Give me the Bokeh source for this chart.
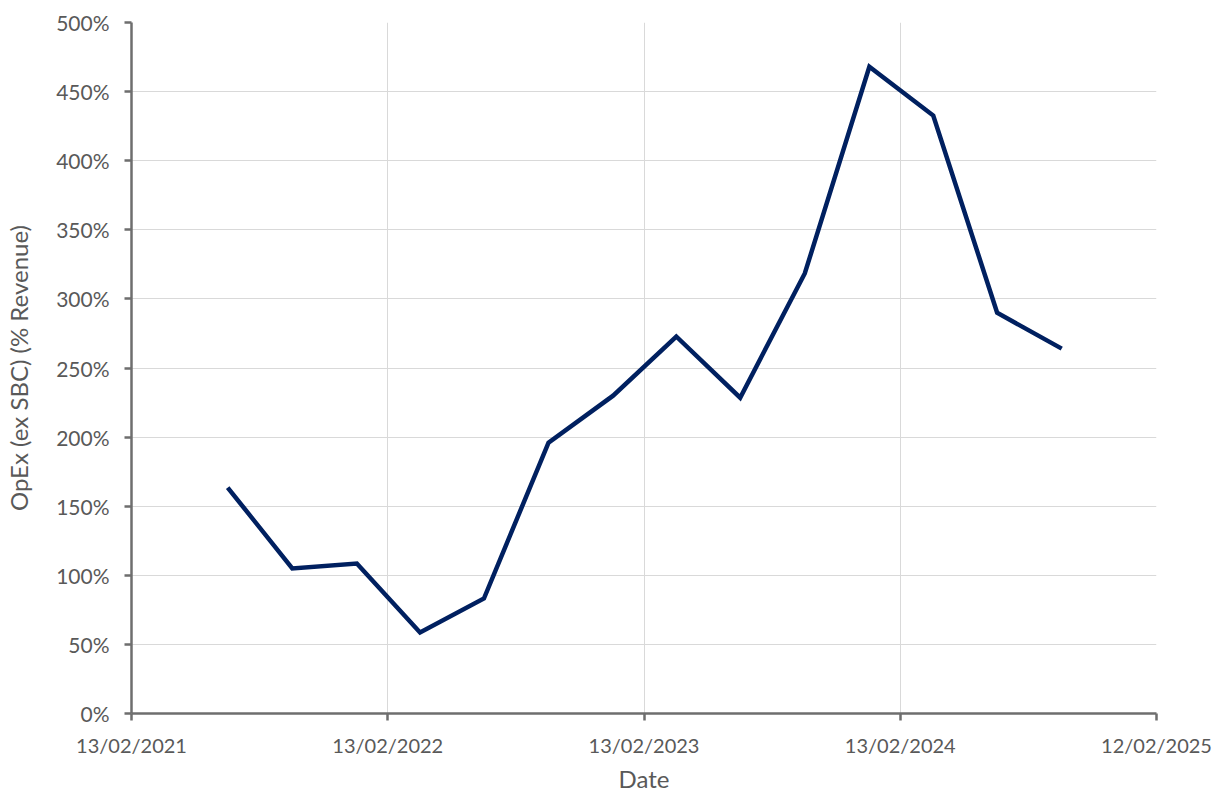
import pandas as pd
from bokeh.plotting import figure
from bokeh.models import FixedTicker, DatetimeTickFormatter, PrintfTickFormatter, Range1d
from bokeh.embed import file_html
from bokeh.resources import INLINE

dates = ["2021-06-30", "2021-09-30", "2021-12-31", "2022-03-31", "2022-06-30",
         "2022-09-30", "2022-12-31", "2023-03-31", "2023-06-30", "2023-09-30",
         "2023-12-31", "2024-03-31", "2024-06-30", "2024-09-30"]
opex_pct = [163.5, 105, 108.5, 58.6, 83.2, 196, 230, 272.8, 228.5, 318.4,
            468, 432.7, 290, 264]
x_ticks = ["2021-02-13", "2022-02-13", "2023-02-13", "2024-02-13", "2025-02-12"]
y_ticks = list(range(0, 501, 50))

x = pd.to_datetime(dates)
xt = pd.to_datetime(x_ticks)
tick_ms = [t.value // 10**6 for t in xt]

FONT = "Lato"
TXT = "#595959"
AX = "#6e6e6e"

p = figure(width=1221, height=798, output_backend="svg", toolbar_location=None,
           x_axis_type="datetime",
           x_range=Range1d(xt[0], xt[-1]), y_range=Range1d(0, 500),
           min_border_left=131, min_border_right=65, min_border_top=22,
           min_border_bottom=85)
p.outline_line_color = None

p.line(x, opex_pct, line_color="#002060", line_width=4.5, line_join="miter")

p.xaxis.ticker = FixedTicker(ticks=tick_ms)
p.xaxis.formatter = DatetimeTickFormatter(
    milliseconds="%d/%m/%Y", seconds="%d/%m/%Y", minsec="%d/%m/%Y", minutes="%d/%m/%Y",
    hourmin="%d/%m/%Y", hours="%d/%m/%Y", days="%d/%m/%Y", months="%d/%m/%Y", years="%d/%m/%Y")
p.yaxis.ticker = FixedTicker(ticks=y_ticks)
p.yaxis.formatter = PrintfTickFormatter(format="%d%%")

p.xaxis.axis_label = "Date"
p.yaxis.axis_label = "OpEx (ex SBC) (% Revenue)"

for ax in (p.xaxis, p.yaxis):
    ax.axis_line_color = AX
    ax.axis_line_width = 2.5
    ax.major_tick_line_color = AX
    ax.major_tick_line_width = 2.5
    ax.major_tick_out = 7
    ax.major_tick_in = 0
    ax.minor_tick_line_color = None
    ax.major_label_text_font = FONT
    ax.major_label_text_font_size = "20px"
    ax.major_label_text_color = TXT
    ax.axis_label_text_font = FONT
    ax.axis_label_text_font_size = "24px"
    ax.axis_label_text_color = TXT
    ax.axis_label_text_font_style = "normal"

p.yaxis.major_label_text_font_size = "21px"
p.xaxis.major_label_standoff = 12
p.yaxis.major_label_standoff = 15
p.xaxis.axis_label_standoff = 4
p.yaxis.axis_label_standoff = 20

p.grid.grid_line_color = "#d9d9d9"
p.grid.grid_line_width = 1

open("out.html", "w").write(file_html(p, INLINE))
